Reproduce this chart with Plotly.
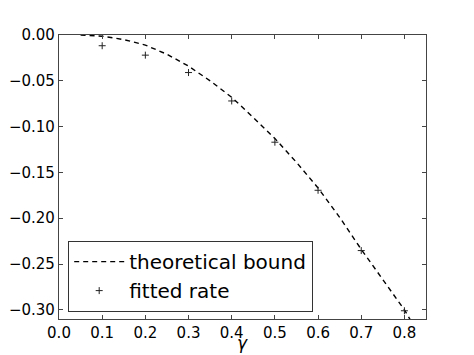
import plotly.graph_objects as go

# theoretical bound curve
gamma_curve = [0.05, 0.10, 0.15, 0.20, 0.25, 0.30, 0.35, 0.40, 0.45, 0.50,
               0.55, 0.60, 0.65, 0.70, 0.75, 0.80, 0.815]
bound_vals = [0.0, -0.0013, -0.005, -0.011, -0.021, -0.034, -0.050, -0.068, -0.090, -0.113,
              -0.139, -0.167, -0.199, -0.234, -0.267, -0.300, -0.312]

# fitted rate points
gamma_pts = [0.1, 0.2, 0.3, 0.4, 0.5, 0.6, 0.7, 0.8]
fitted_vals = [-0.0117, -0.022, -0.041, -0.072, -0.117, -0.1695, -0.2353, -0.301]

x_ticks = [0.0, 0.1, 0.2, 0.3, 0.4, 0.5, 0.6, 0.7, 0.8]
y_ticks = [0.00, -0.05, -0.10, -0.15, -0.20, -0.25, -0.30]

fig = go.Figure()
fig.add_trace(go.Scatter(
    x=gamma_curve, y=bound_vals, mode="lines", name="theoretical bound",
    line=dict(color="black", width=1.4, dash="5px,4px"),
))
fig.add_trace(go.Scatter(
    x=gamma_pts, y=fitted_vals, mode="markers", name="fitted rate",
    marker=dict(symbol="cross-thin", size=5, line=dict(color="#222", width=1)),
))

axis_common = dict(
    showline=True, linecolor="#444", linewidth=1.2, mirror="allticks",
    ticks="inside", ticklen=4, tickcolor="#444", showgrid=False, zeroline=False,
    tickfont=dict(family="DejaVu Sans", size=15, color="black"),
    automargin=False,
)

# the page body has an 8px margin, so the figure is drawn 8px in from the corner
fig.update_layout(
    width=466, height=347,
    margin=dict(l=51, r=48, t=27, b=36),
    paper_bgcolor="white", plot_bgcolor="white",
    xaxis=dict(range=[0, 0.85], tickvals=x_ticks, tickformat=".1f", **axis_common),
    yaxis=dict(range=[-0.31, 0.0], tickvals=y_ticks, tickformat=".2f", **axis_common),
    legend=dict(
        x=0.0245, y=0.025, xanchor="left", yanchor="bottom",
        bordercolor="#333", borderwidth=1.2, bgcolor="white",
        font=dict(family="DejaVu Sans", size=20, color="black"),
        itemwidth=50, tracegroupgap=0,
    ),
    annotations=[dict(
        text="<i>γ</i>", xref="paper", yref="paper", x=0.5, y=0,
        xanchor="center", yanchor="middle", yshift=-24, showarrow=False,
        font=dict(family="DejaVu Sans", size=17, color="black"),
    )],
)

fig.write_html("out.html")
